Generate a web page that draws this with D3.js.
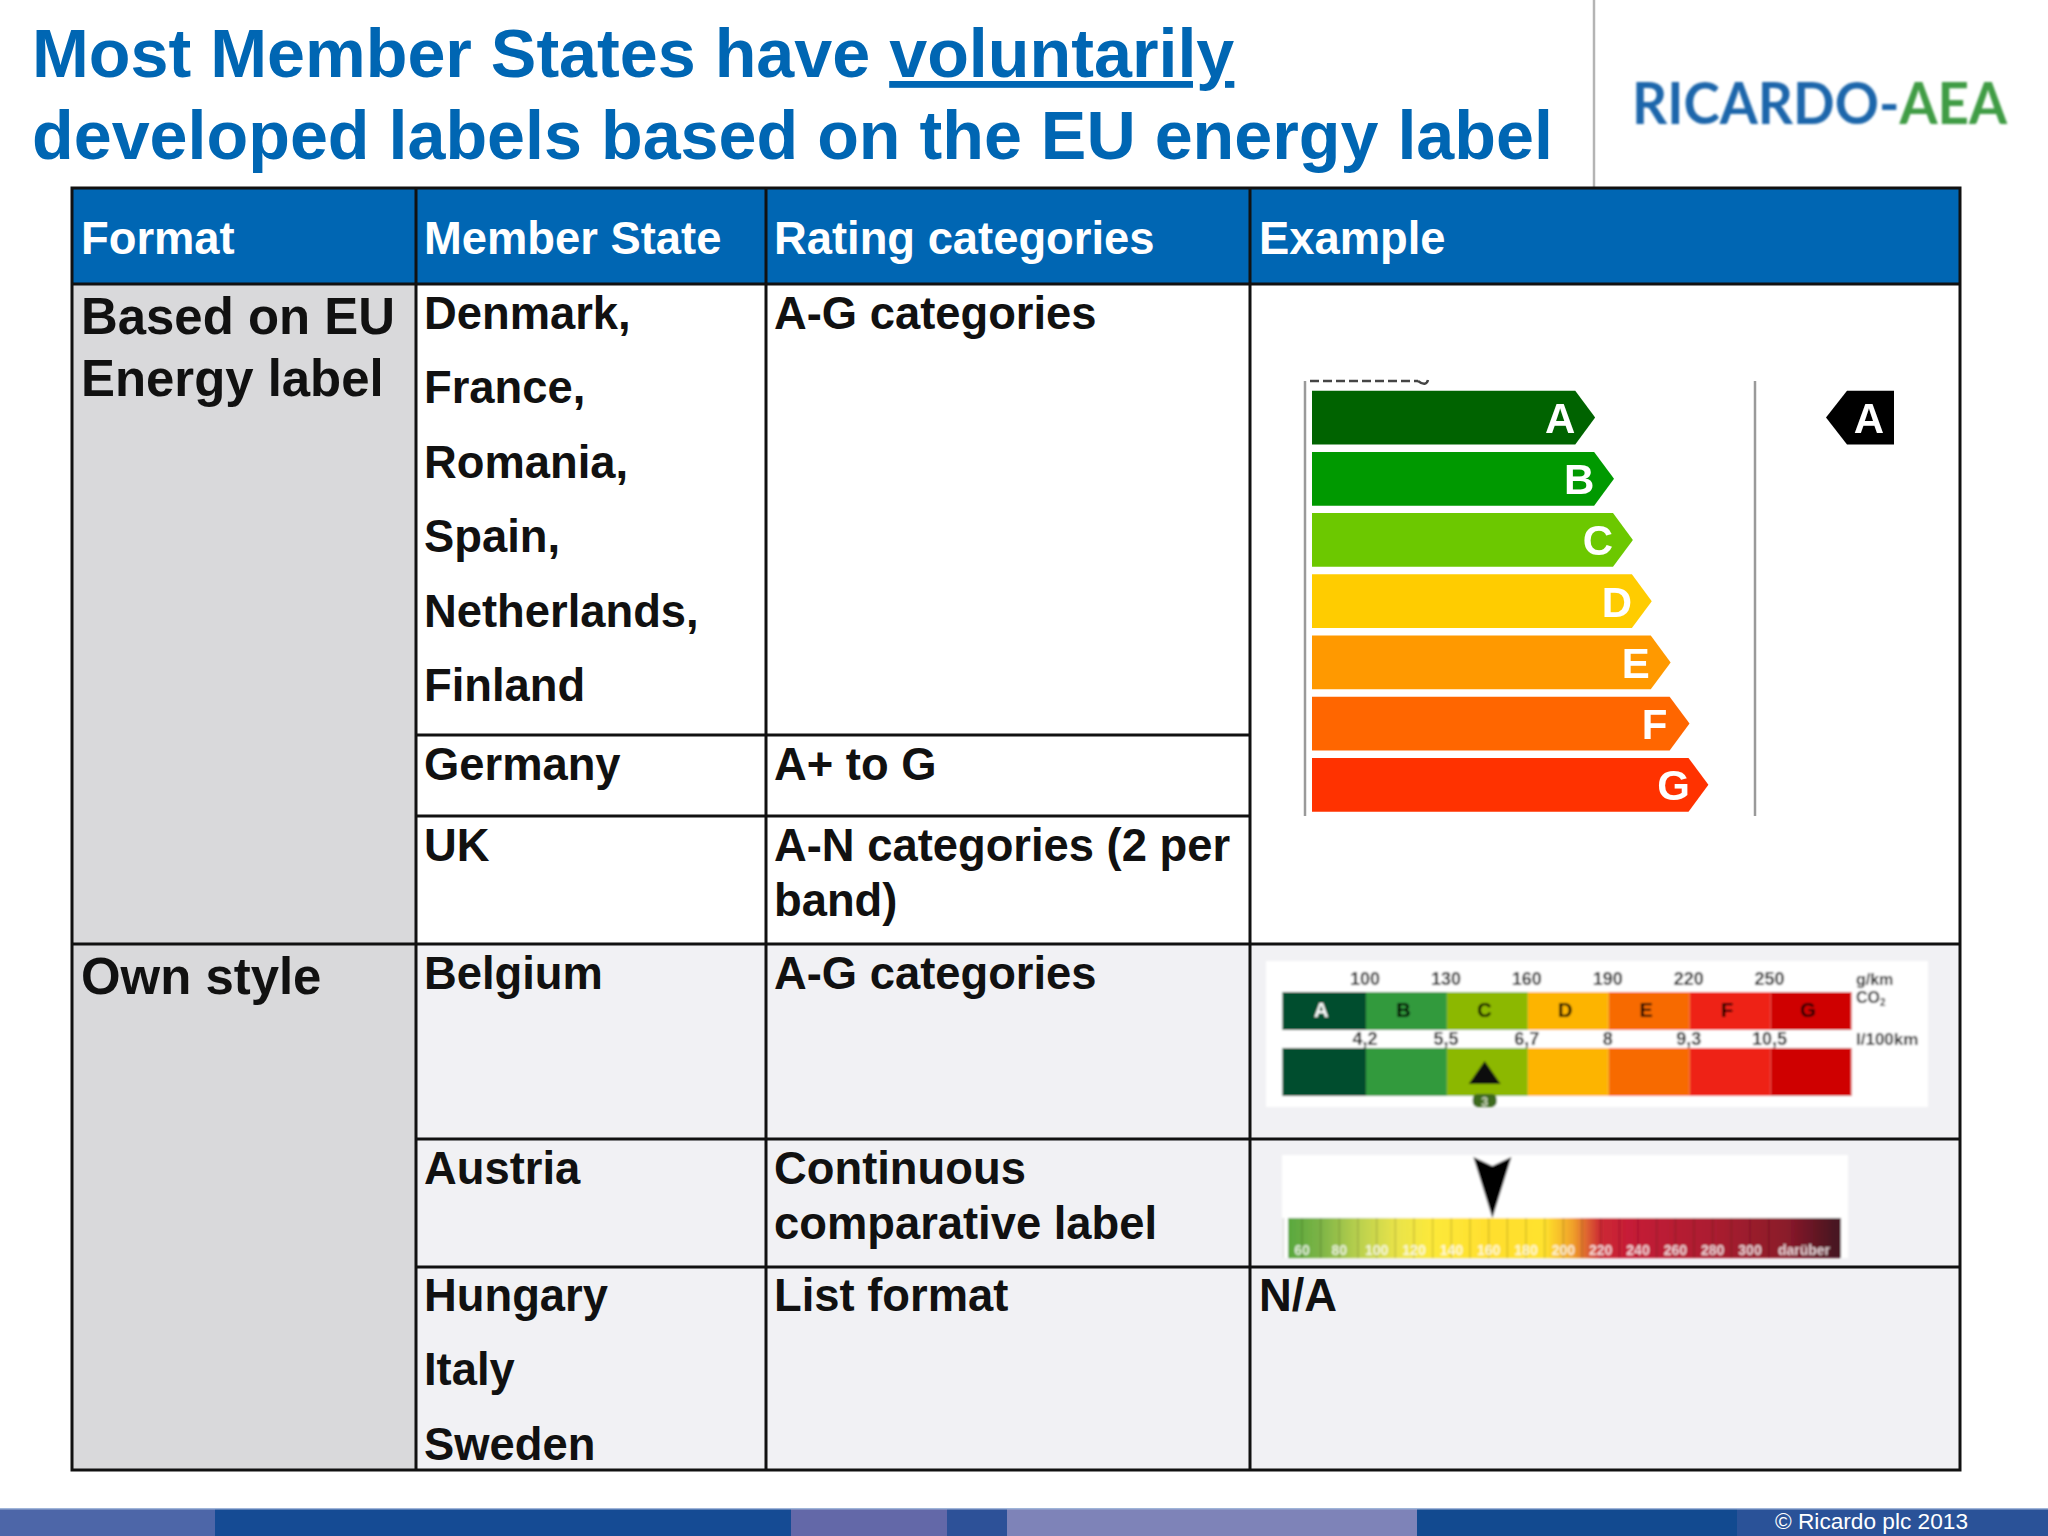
<!DOCTYPE html>
<html><head><meta charset="utf-8"><title>EU energy label formats</title>
<script src="https://cdn.jsdelivr.net/npm/d3@7/dist/d3.min.js"></script>
<style>html,body{margin:0;padding:0;background:#fff}svg{display:block}text{font-family:"Liberation Sans",Arial,sans-serif}</style>
</head><body><div id="chart"></div>
<script>
// ---------- data ----------
const titleLine1 = "Most Member States have ";
const titleEmphasis = "voluntarily";
const titleLine2 = "developed labels based on the EU energy label";
const tableHeaders = ["Format", "Member State", "Rating categories", "Example"];
const formatGroups = [["Based on EU", "Energy label"], ["Own style"]];
const stateLists = [
  ["Denmark,", "France,", "Romania,", "Spain,", "Netherlands,", "Finland"],
  ["Germany"], ["UK"], ["Belgium"], ["Austria"], ["Hungary", "Italy", "Sweden"]
];
const ratingTexts = [
  ["A-G categories"], ["A+ to G"], ["A-N categories (2 per", "band)"],
  ["A-G categories"], ["Continuous", "comparative label"], ["List format"]
];
const bandLetters = ["A", "B", "C", "D", "E", "F", "G"];
const bandLengths = [15, 16, 17, 18, 19, 20, 21];
const bandColors = ["#006400", "#009900", "#6cc800", "#ffcc00", "#ff9900", "#ff6600", "#ff3300"];
const co2Edges = [69, 100, 130, 160, 190, 220, 250, 280];
const co2Ticks = [100, 130, 160, 190, 220, 250];
const fuelTicks = ["4,2", "5,5", "6,7", "8", "9,3", "10,5"];
const belgiumColors = ["#004d2f", "#339a3e", "#8cb800", "#fdb400", "#f76b00", "#ee2117", "#cf0000"];
const belgiumLetterColors = ["#ffffff", "#000000", "#000000", "#000000", "#000000", "#000000", "#000000"];
const belgiumRating = 144;
const austriaTicks = [60, 80, 100, 120, 140, 160, 180, 200, 220, 240, 260, 280, 300];
const austriaStops = [50, 70, 90, 110, 130, 160, 190, 205, 220, 235, 280, 320, 345];
const austriaColors = ["#53a63c", "#7db446", "#b9d04e", "#e8e34a", "#fde93a", "#ffdf2e", "#ffe22d", "#f0a12b", "#cc2a34", "#c61d37", "#ab1e30", "#8a1a2a", "#4a1420"];
const austriaRating = 162;
const footerEdges = [0, 215, 791, 947, 1007, 1417, 1737, 2048];
const footerColors = ["#4d66a8", "#154b94", "#6368a8", "#2d5198", "#7e83b8", "#124a90", "#2a5298"];

// ---------- layout ----------
const W = 2048, H = 1536;
const colX = [72, 416, 766, 1250, 1960];
const colPad = [9, 8, 8, 9];
const rowY = [284, 735, 816, 944, 1139, 1267, 1470];
const headTop = 188;
const blue = "#0066b3";

const svg = d3.select("#chart").append("svg").attr("width", W).attr("height", H).attr("viewBox", `0 0 ${W} ${H}`);
const defs = svg.append("defs");
defs.append("filter").attr("id", "soft").append("feGaussianBlur").attr("stdDeviation", 1.0);
defs.append("filter").attr("id", "softer").append("feGaussianBlur").attr("stdDeviation", 0.7);
svg.append("rect").attr("width", W).attr("height", H).attr("fill", "#fff");

// title
const t1 = svg.append("text").attr("x", 32).attr("y", 77).attr("font-size", 68.25).attr("font-weight", 700).attr("fill", blue);
t1.append("tspan").style("white-space", "pre").text(titleLine1);
t1.append("tspan").attr("text-decoration", "underline").text(titleEmphasis);
svg.append("text").attr("x", 32).attr("y", 159).attr("font-size", 68.25).attr("font-weight", 700).attr("fill", blue).text(titleLine2);

// logo
svg.append("line").attr("x1", 1594).attr("x2", 1594).attr("y1", 0).attr("y2", headTop).attr("stroke", "#b4b4b4").attr("stroke-width", 2.5);
const logo = svg.append("text").attr("filter", "url(#soft)").attr("x", 1632).attr("y", 124).attr("font-size", 57).attr("font-weight", 700)
  .attr("textLength", 375).attr("lengthAdjust", "spacingAndGlyphs").style("font-family", "Lato, 'Liberation Sans', sans-serif");
logo.append("tspan").attr("fill", "#1f66ab").text("RICARDO-");
logo.append("tspan").attr("fill", "#3f9c45").text("AEA");

// table fills
svg.append("rect").attr("x", colX[0]).attr("y", headTop).attr("width", colX[4] - colX[0]).attr("height", rowY[0] - headTop).attr("fill", blue);
svg.append("rect").attr("x", colX[1]).attr("y", rowY[3]).attr("width", colX[4] - colX[1]).attr("height", rowY[6] - rowY[3]).attr("fill", "#f1f1f4");
svg.append("rect").attr("x", colX[0]).attr("y", rowY[0]).attr("width", colX[1] - colX[0]).attr("height", rowY[6] - rowY[0]).attr("fill", "#d9d9db");

// header and body text
const firstBase = 45;
const rowBase = r => rowY[r] + firstBase - (r === 5 ? 1 : 0);
svg.append("g").selectAll("text").data(tableHeaders).join("text")
  .attr("x", (d, i) => colX[i] + colPad[i]).attr("y", 254).attr("font-size", 45.35).attr("font-weight", 700).attr("fill", "#fff").text(d => d);

const groupRows = [0, 3];
formatGroups.forEach((lines, g) => {
  svg.append("g").selectAll("text").data(lines).join("text")
    .attr("x", colX[0] + colPad[0]).attr("y", (d, i) => rowY[groupRows[g]] + 50 + i * 61.5)
    .attr("font-size", 50.9).attr("font-weight", 700).attr("fill", "#111").text(d => d);
});
stateLists.forEach((lines, r) => {
  svg.append("g").selectAll("text").data(lines).join("text")
    .attr("x", colX[1] + colPad[1]).attr("y", (d, i) => rowBase(r) + i * 74.4)
    .attr("font-size", 45.35).attr("font-weight", 700).attr("fill", "#111").text(d => d);
});
ratingTexts.forEach((lines, r) => {
  svg.append("g").selectAll("text").data(lines).join("text")
    .attr("x", colX[2] + colPad[2]).attr("y", (d, i) => rowBase(r) + i * 54.8)
    .attr("font-size", 45.35).attr("font-weight", 700).attr("fill", "#111").text(d => d);
});
svg.append("text").attr("x", colX[3] + colPad[3]).attr("y", rowBase(5)).attr("font-size", 45.35).attr("font-weight", 700).attr("fill", "#111").text("N/A");

// example 1: EU energy label
const eu = svg.append("g").attr("filter", "url(#softer)");
const euX = d3.scaleLinear().domain([0, 21]).range([1312, 1708.4]);
const euY = d3.scaleBand().domain(bandLetters).range([390.7, 811.7]).paddingInner(0.122);
const euH = euY.bandwidth(), euNotch = euX(1) - euX(0) + 1;
eu.selectAll("line.frame").data([1305, 1755]).join("line").attr("class", "frame")
  .attr("x1", d => d).attr("x2", d => d).attr("y1", 381).attr("y2", 816).attr("stroke", "#9a9a9a").attr("stroke-width", 2.5);
// remnant of a cropped caption above the bars
eu.append("line").attr("x1", 1310).attr("x2", 1418).attr("y1", 381).attr("y2", 381).attr("stroke", "#444").attr("stroke-width", 2.5).attr("stroke-dasharray", "9 4");
eu.append("path").attr("d", "M1418,381 q8,6 10,-1").attr("fill", "none").attr("stroke", "#444").attr("stroke-width", 2.5);
eu.selectAll("path.band").data(bandLetters).join("path").attr("class", "band")
  .attr("fill", (d, i) => bandColors[i])
  .attr("d", (d, i) => {
    const y = euY(d), tip = euX(bandLengths[i]);
    return d3.line()([[euX(0), y], [tip - euNotch, y], [tip, y + euH / 2], [tip - euNotch, y + euH], [euX(0), y + euH]]) + "Z";
  });
eu.selectAll("text.letter").data(bandLetters).join("text").attr("class", "letter")
  .attr("x", (d, i) => euX(bandLengths[i]) - euNotch - 15).attr("y", d => euY(d) + euH / 2 + 15.5)
  .attr("text-anchor", "middle").attr("font-size", 42).attr("font-weight", 700).attr("fill", "#fff").text(d => d);
const pointerY = euY("A");
eu.append("path").attr("fill", "#000").attr("d", d3.line()([[1826, pointerY + euH / 2], [1847, pointerY], [1894, pointerY], [1894, pointerY + euH], [1847, pointerY + euH]]) + "Z");
eu.append("text").attr("x", 1869).attr("y", pointerY + euH / 2 + 15.5).attr("text-anchor", "middle").attr("font-size", 42).attr("font-weight", 700).attr("fill", "#fff").text(bandLetters[0]);

// example 2: Belgium
const be = svg.append("g").attr("filter", "url(#soft)");
be.append("rect").attr("x", 1266).attr("y", 961).attr("width", 662).attr("height", 146).attr("fill", "#fff");
const beX = d3.scaleLinear().domain([100, 250]).range([1366, 1770.6]);
const beRows = [[992, 38], [1048, 48]];
beRows.forEach(([y, h]) => {
  be.append("g").selectAll("rect").data(belgiumColors).join("rect")
    .attr("x", (d, i) => beX(co2Edges[i])).attr("y", y)
    .attr("width", (d, i) => beX(co2Edges[i + 1]) - beX(co2Edges[i])).attr("height", h).attr("fill", d => d);
});
be.append("g").selectAll("text").data(bandLetters).join("text")
  .attr("x", (d, i) => (beX(co2Edges[i]) + beX(co2Edges[i + 1])) / 2 - 3).attr("y", 1017).attr("text-anchor", "middle")
  .attr("font-size", 20).attr("font-weight", 700).attr("fill", (d, i) => belgiumLetterColors[i]).text(d => d);
const beText = be.append("g").attr("font-size", 18).attr("font-weight", 700).attr("fill", "#222");
beText.selectAll("text.co2").data(co2Ticks).join("text").attr("class", "co2").attr("x", d => beX(d) - 1).attr("y", 985).attr("text-anchor", "middle").text(d => d);
beText.selectAll("text.fuel").data(fuelTicks).join("text").attr("class", "fuel").attr("x", (d, i) => beX(co2Ticks[i]) - 1).attr("y", 1045).attr("text-anchor", "middle").text(d => d);
beText.append("text").attr("x", 1856).attr("y", 985).attr("font-size", 16).text("g/km");
const coText = beText.append("text").attr("x", 1856).attr("y", 1003).attr("font-size", 16).text("CO");
coText.append("tspan").attr("dy", 3).attr("font-size", 10).text("2");
beText.append("text").attr("x", 1856).attr("y", 1045).attr("font-size", 17).text("l/100km");
const triX = beX(belgiumRating);
be.append("path").attr("fill", "#111").attr("d", d3.line()([[triX, 1061], [triX + 16, 1084], [triX - 16, 1084]]) + "Z");
be.append("rect").attr("x", triX - 12).attr("y", 1094).attr("width", 24).attr("height", 13).attr("rx", 5).attr("fill", "#3e6b1e");
be.append("text").attr("x", triX).attr("y", 1106).attr("text-anchor", "middle").attr("font-size", 13).attr("font-weight", 700).attr("fill", "#cfd8c0").text("3");

// example 3: Austria
const at = svg.append("g").attr("filter", "url(#soft)");
at.append("rect").attr("x", 1282).attr("y", 1155).attr("width", 566).attr("height", 103).attr("fill", "#fff");
const atX = d3.scaleLinear().domain([60, 300]).range([1302, 1750]);
const grad = defs.append("linearGradient").attr("id", "atGrad").attr("gradientUnits", "userSpaceOnUse").attr("x1", atX(50)).attr("x2", atX(345)).attr("y1", 0).attr("y2", 0);
grad.selectAll("stop").data(austriaStops).join("stop")
  .attr("offset", d => (d - 50) / (345 - 50)).attr("stop-color", (d, i) => austriaColors[i]);
at.append("rect").attr("x", 1288).attr("y", 1218).attr("width", 553).attr("height", 40).attr("fill", "url(#atGrad)");
at.selectAll("line.cell").data(d3.range(0, 27)).join("line").attr("class", "cell")
  .attr("x1", d => atX(50 + d * 10)).attr("x2", d => atX(50 + d * 10)).attr("y1", 1218).attr("y2", 1258)
  .attr("stroke", "#000").attr("stroke-opacity", 0.15).attr("stroke-width", 1.5);
at.append("g").selectAll("text").data(austriaTicks).join("text")
  .attr("x", d => atX(d)).attr("y", 1255).attr("text-anchor", "middle").attr("font-size", 14).attr("font-weight", 700).attr("fill", "#ffffff").attr("fill-opacity", 0.8).text(d => d);
at.append("text").attr("x", 1804).attr("y", 1255).attr("text-anchor", "middle").attr("font-size", 14).attr("font-weight", 700).attr("fill", "#ffffff").attr("fill-opacity", 0.8).text("darüber");
const arrowX = atX(austriaRating);
at.append("path").attr("fill", "#000").attr("d", d3.line()([[arrowX - 19, 1157], [arrowX, 1166], [arrowX + 19, 1157], [arrowX, 1218]]) + "Z");

// table borders
const border = svg.append("g").attr("stroke", "#111").attr("stroke-width", 3).attr("fill", "none");
border.append("rect").attr("x", colX[0]).attr("y", headTop).attr("width", colX[4] - colX[0]).attr("height", rowY[6] - headTop);
border.selectAll("line.v").data(colX.slice(1, 4)).join("line").attr("class", "v").attr("x1", d => d).attr("x2", d => d).attr("y1", headTop).attr("y2", rowY[6]);
border.append("line").attr("x1", colX[0]).attr("x2", colX[4]).attr("y1", rowY[0]).attr("y2", rowY[0]);
border.append("line").attr("x1", colX[0]).attr("x2", colX[4]).attr("y1", rowY[3]).attr("y2", rowY[3]);
[[1, 1, 3], [2, 1, 3], [4, 1, 4], [5, 1, 4]].forEach(([r, a, b]) => {
  border.append("line").attr("x1", colX[a]).attr("x2", colX[b]).attr("y1", rowY[r]).attr("y2", rowY[r]);
});

// footer band
svg.append("g").selectAll("rect").data(footerColors).join("rect")
  .attr("x", (d, i) => footerEdges[i]).attr("y", 1508).attr("width", (d, i) => footerEdges[i + 1] - footerEdges[i]).attr("height", H - 1508).attr("fill", d => d);
svg.append("rect").attr("x", 0).attr("y", 1508).attr("width", W).attr("height", 1.5).attr("fill", "#9fb4d8");
svg.append("text").attr("x", 1775).attr("y", 1529).attr("font-size", 22.5).attr("fill", "#fff").attr("textLength", 193).attr("lengthAdjust", "spacingAndGlyphs").text("© Ricardo plc 2013");
</script></body></html>
